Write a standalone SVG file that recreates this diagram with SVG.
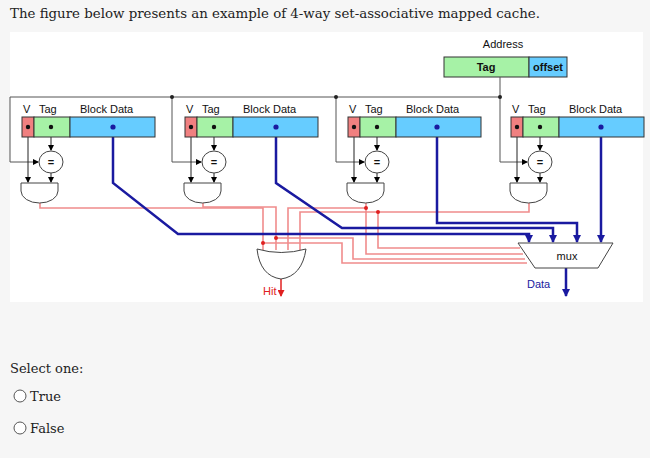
<svg xmlns="http://www.w3.org/2000/svg" width="650" height="458" viewBox="0 0 650 458">
<defs>
<marker id="ak" markerWidth="6" markerHeight="6" refX="5" refY="3" orient="auto" markerUnits="userSpaceOnUse"><path d="M0,0 L6,3 L0,6 z" fill="#000"/></marker>
<marker id="ab" markerWidth="8" markerHeight="8" refX="7" refY="4" orient="auto" markerUnits="userSpaceOnUse"><path d="M0,0 L8,4 L0,8 z" fill="#1a1aa0"/></marker>
<marker id="ar" markerWidth="7" markerHeight="7" refX="6" refY="3.5" orient="auto" markerUnits="userSpaceOnUse"><path d="M0,0 L7,3.5 L0,7 z" fill="#e02020"/></marker>
</defs>
<style>
.lbl{font-family:"Liberation Sans",Arial,sans-serif;font-size:11px;fill:#111}
.g{fill:none;stroke:#555;stroke-width:1}
.k{fill:none;stroke:#222;stroke-width:1}
.b{fill:none;stroke:#1a1aa0;stroke-width:2.5}
.r{fill:none;stroke:#f08c8c;stroke-width:1.6}
.gate{fill:#fff;stroke:#444;stroke-width:1}
.ser{font-family:"DejaVu Serif",serif;font-size:13px;fill:#222}
</style>
<rect width="650" height="458" fill="#f6f6f6"/>
<rect x="10" y="32" width="633" height="270" fill="#fff"/>
<text class="ser" x="10" y="18" textLength="530" lengthAdjust="spacingAndGlyphs">The figure below presents an example of 4-way set-associative mapped cache.</text>

<g id="address">
<text class="lbl" x="503" y="48" text-anchor="middle">Address</text>
<rect x="444" y="57" width="85" height="20" fill="#a6f2a6" stroke="#333"/>
<rect x="529" y="57" width="38" height="20" fill="#66ccff" stroke="#333"/>
<text class="lbl" x="486" y="71" text-anchor="middle" font-weight="bold" font-size="10">Tag</text>
<text class="lbl" x="548" y="71" text-anchor="middle" font-weight="bold" font-size="10">offset</text>
</g>

<g id="connectors">
<path class="g" d="M500,77 V97 H10 V162 H38" marker-end="url(#ak)"/>
<path class="g" d="M172,97 V162 H201" marker-end="url(#ak)"/>
<path class="g" d="M336,97 V162 H364" marker-end="url(#ak)"/>
<path class="g" d="M500,97 V162 H527" marker-end="url(#ak)"/>
<g fill="#222"><circle cx="172" cy="97" r="2"/><circle cx="336" cy="97" r="2"/><circle cx="500" cy="97" r="2"/></g>
<!-- per block black wires -->
<g id="w1">
<path class="k" d="M28,127 V182" marker-end="url(#ak)"/><path class="k" d="M51,127 V150" marker-end="url(#ak)"/><path class="k" d="M51,173 V182" marker-end="url(#ak)"/>
<path class="k" d="M191,127 V182" marker-end="url(#ak)"/><path class="k" d="M214,127 V150" marker-end="url(#ak)"/><path class="k" d="M214,173 V182" marker-end="url(#ak)"/>
<path class="k" d="M354,127 V182" marker-end="url(#ak)"/><path class="k" d="M377,127 V150" marker-end="url(#ak)"/><path class="k" d="M377,173 V182" marker-end="url(#ak)"/>
<path class="k" d="M517,127 V182" marker-end="url(#ak)"/><path class="k" d="M540,127 V150" marker-end="url(#ak)"/><path class="k" d="M540,173 V182" marker-end="url(#ak)"/>
</g>
<!-- red -->
<path class="r" d="M40,203 V208 H263 V250"/>
<path class="r" d="M263,243 H342 V263 H527"/>
<path class="r" d="M203,203 V207 H276 V250"/>
<path class="r" d="M276,238 H353 V259 H525"/>
<path class="r" d="M366,203 V208 H288 V250"/>
<path class="r" d="M366,208 V254 H523"/>
<path class="r" d="M529,203 V212 H300 V250"/>
<path class="r" d="M378,212 V248 H520"/>
<g fill="#e02020"><circle cx="263" cy="243" r="2"/><circle cx="276" cy="238" r="2"/><circle cx="366" cy="208" r="2"/><circle cx="378" cy="212" r="2"/></g>
<!-- blue -->
<path class="b" d="M113,127 V183 L178,234 H529 V242" marker-end="url(#ab)"/>
<path class="b" d="M276,127 V183 L342,228 H553 V242" marker-end="url(#ab)"/>
<path class="b" d="M437,127 V223 H577 V242" marker-end="url(#ab)"/>
<path class="b" d="M601,127 V242" marker-end="url(#ab)"/>
<path class="b" d="M566,268 V296" marker-end="url(#ab)"/>
<path fill="none" stroke="#e02020" stroke-width="1.5" d="M281,279 V296" marker-end="url(#ar)"/>
</g>

<g id="block1"><text class="lbl" x="23" y="113">V</text><text class="lbl" x="39" y="113">Tag</text><text class="lbl" x="80" y="113">Block Data</text>
<rect x="22" y="117" width="12" height="20" fill="#f08080" stroke="#333"/><rect x="34" y="117" width="36" height="20" fill="#a6f2a6" stroke="#333"/><rect x="70" y="117" width="85" height="20" fill="#66ccff" stroke="#333"/></g>
<g id="block2"><text class="lbl" x="186" y="113">V</text><text class="lbl" x="202" y="113">Tag</text><text class="lbl" x="243" y="113">Block Data</text>
<rect x="185" y="117" width="12" height="20" fill="#f08080" stroke="#333"/><rect x="197" y="117" width="36" height="20" fill="#a6f2a6" stroke="#333"/><rect x="233" y="117" width="85" height="20" fill="#66ccff" stroke="#333"/></g>
<g id="block3"><text class="lbl" x="349" y="113">V</text><text class="lbl" x="365" y="113">Tag</text><text class="lbl" x="406" y="113">Block Data</text>
<rect x="348" y="117" width="12" height="20" fill="#f08080" stroke="#333"/><rect x="360" y="117" width="36" height="20" fill="#a6f2a6" stroke="#333"/><rect x="396" y="117" width="85" height="20" fill="#66ccff" stroke="#333"/></g>
<g id="block4"><text class="lbl" x="512" y="113">V</text><text class="lbl" x="528" y="113">Tag</text><text class="lbl" x="569" y="113">Block Data</text>
<rect x="511" y="117" width="12" height="20" fill="#f08080" stroke="#333"/><rect x="523" y="117" width="36" height="20" fill="#a6f2a6" stroke="#333"/><rect x="559" y="117" width="85" height="20" fill="#66ccff" stroke="#333"/></g>

<g id="dots" fill="#111">
<circle cx="28" cy="127" r="2.2"/><circle cx="51" cy="127" r="2.2"/><circle cx="113" cy="127" r="2.6" fill="#1a1aa0"/>
<circle cx="191" cy="127" r="2.2"/><circle cx="214" cy="127" r="2.2"/><circle cx="276" cy="127" r="2.6" fill="#1a1aa0"/>
<circle cx="354" cy="127" r="2.2"/><circle cx="377" cy="127" r="2.2"/><circle cx="437" cy="127" r="2.6" fill="#1a1aa0"/>
<circle cx="517" cy="127" r="2.2"/><circle cx="540" cy="127" r="2.2"/><circle cx="601" cy="127" r="2.6" fill="#1a1aa0"/>
</g>

<g id="cmp1"><ellipse class="gate" cx="51" cy="162" rx="12" ry="11"/><text class="lbl" x="51" y="166" text-anchor="middle" font-weight="bold">=</text></g>
<g id="cmp2"><ellipse class="gate" cx="214" cy="162" rx="12" ry="11"/><text class="lbl" x="214" y="166" text-anchor="middle" font-weight="bold">=</text></g>
<g id="cmp3"><ellipse class="gate" cx="377" cy="162" rx="12" ry="11"/><text class="lbl" x="377" y="166" text-anchor="middle" font-weight="bold">=</text></g>
<g id="cmp4"><ellipse class="gate" cx="540" cy="162" rx="12" ry="11"/><text class="lbl" x="540" y="166" text-anchor="middle" font-weight="bold">=</text></g>

<g id="and1"><path class="gate" d="M21,183 H58 V191 A18.5,12 0 0 1 21,191 Z"/></g>
<g id="and2"><path class="gate" d="M184,183 H221 V191 A18.5,12 0 0 1 184,191 Z"/></g>
<g id="and3"><path class="gate" d="M347,183 H384 V191 A18.5,12 0 0 1 347,191 Z"/></g>
<g id="and4"><path class="gate" d="M510,183 H547 V191 A18.5,12 0 0 1 510,191 Z"/></g>

<g id="or"><path class="gate" d="M257,249 Q281,256 306,249 Q302,276 281,279 Q260,276 257,249 Z"/>
<text x="263" y="295" font-family="Liberation Sans,Arial,sans-serif" font-size="11" fill="#e02020">Hit</text></g>

<g id="mux"><path class="gate" d="M518,243 H613 L598,268 H535 Z"/>
<text class="lbl" x="567" y="260" text-anchor="middle">mux</text>
<text x="527" y="288" font-family="Liberation Sans,Arial,sans-serif" font-size="11" fill="#1a1aa0">Data</text></g>

<g id="question">
<text class="ser" x="10" y="373">Select one:</text>
<circle cx="20" cy="396" r="6" fill="#fff" stroke="#555"/><text class="ser" x="30" y="401">True</text>
<circle cx="20" cy="428" r="6" fill="#fff" stroke="#555"/><text class="ser" x="30" y="433">False</text>
</g>
</svg>
